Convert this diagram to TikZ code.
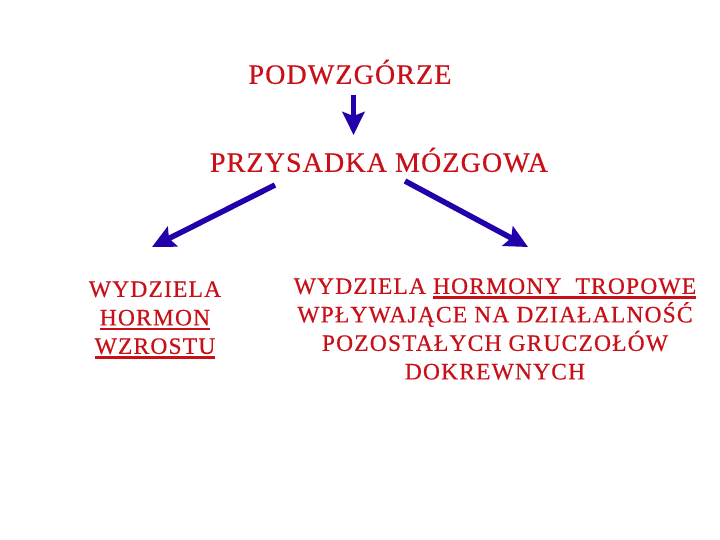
\documentclass[tikz,border=0pt]{standalone}
\usepackage{fontspec}
\setmainfont{Liberation Serif}
\newfontfamily\spacedfont[LetterSpace=5,FakeBold=0.5]{Liberation Serif}
\newfontfamily\spacedfontb[LetterSpace=4,FakeBold=0.5]{Liberation Serif}
\newcommand\thickul[1]{\setbox0\hbox{#1}\leavevmode\rlap{\raisebox{-4.8pt}{\rule{\wd0}{2.3pt}}}\box0}
\usetikzlibrary{arrows.meta}
\definecolor{txtred}{RGB}{200,16,24}
\definecolor{arrblue}{RGB}{34,0,170}
\tikzset{
  title/.style={text=txtred,font=\spacedfontb\fontsize{28}{32}\selectfont,inner sep=0pt},
  body/.style={text=txtred,font=\spacedfont\fontsize{23.5}{28.5}\selectfont,align=center,inner sep=0pt},
  arr/.style={draw=arrblue,line width=5.5pt,-{Stealth[length=23pt,width=22pt,inset=4pt]}}
}
\begin{document}
\begin{tikzpicture}[x=1pt,y=-1pt]
\useasboundingbox (0,0) rectangle (720,540);
\node[title] (pod) at (350,72) {PODWZGÓRZE};
\node[title] (prz) at (379,160) {PRZYSADKA MÓZGOWA};
\node[body] (left) at (155,320) {WYDZIELA\\\thickul{HORMON}\\\thickul{WZROSTU}};
\node[body] (right) at (495,329) {WYDZIELA \thickul{HORMONY\ \ TROPOWE}\\WPŁYWAJĄCE NA DZIAŁALNOŚĆ\\POZOSTAŁYCH GRUCZOŁÓW\\DOKREWNYCH};
\coordinate (a1s) at (353.5,95);
\coordinate (a1e) at (353.5,135);
\coordinate (a2s) at (275,185);
\coordinate (a2e) at (152,247);
\coordinate (a3s) at (405,181);
\coordinate (a3e) at (528,247);
\draw[arr] (a1s) -- (a1e);
\draw[arr] (a2s) -- (a2e);
\draw[arr] (a3s) -- (a3e);
\end{tikzpicture}
\end{document}
